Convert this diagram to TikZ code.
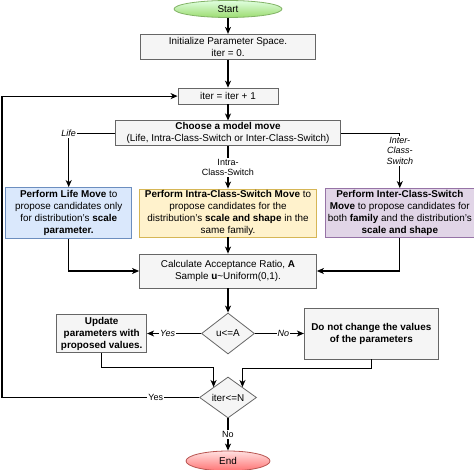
\documentclass[tikz,border=0pt]{standalone}
\usepackage{fontspec}
\setmainfont{Liberation Sans}
\usepackage{xcolor}
\usetikzlibrary{shapes,arrows,arrows.meta,positioning,calc}

\definecolor{grayfill}{HTML}{F5F5F5}
\definecolor{grayline}{HTML}{666666}
\definecolor{bluefill}{HTML}{DAE8FC}
\definecolor{blueline}{HTML}{6C8EBF}
\definecolor{yellowfill}{HTML}{FFF2CC}
\definecolor{yellowline}{HTML}{D6B656}
\definecolor{purplefill}{HTML}{E1D5E7}
\definecolor{purpleline}{HTML}{9673A6}
\definecolor{greenline}{HTML}{82B366}
\definecolor{redline}{HTML}{B85450}

\begin{document}
\begin{tikzpicture}[x=1pt, y=1pt,
    box/.style={rectangle, draw=grayline, fill=grayfill, line width=0.8pt, align=center,
                inner sep=0.5pt, font=\fontsize{9.9}{12}\selectfont},
    cond/.style={diamond, aspect=1.5, draw=grayline, fill=grayfill, line width=0.8pt,
                 inner sep=0pt, font=\fontsize{9.9}{12}\selectfont},
    term/.style={ellipse, line width=0.8pt, inner sep=0pt, font=\fontsize{9.9}{12}\selectfont},
    lbl/.style={fill=white, inner sep=1pt, align=center, font=\fontsize{9}{10.5}\selectfont},
    ilbl/.style={lbl, font=\fontsize{9}{10.5}\selectfont\itshape},
    arr/.style={->, >={Stealth[length=7pt, width=6pt, inset=2pt]}, line width=1.1pt}
]
\useasboundingbox (0,0) rectangle (474,-470);

\node[term, draw=greenline, top color=green!12!white, bottom color=green!45!lime!60!gray!70,
      minimum width=108pt, minimum height=17pt] (start) at (228,-9) {Start};
\node[box, below=16pt of start, minimum width=175pt, minimum height=25pt] (init)
      {Initialize Parameter Space.\\iter = 0.};
\node[box, below=28pt of init, minimum width=100pt, minimum height=16pt] (iter)
      {iter = iter + 1};
\node[box, below=16pt of iter, minimum width=225pt, minimum height=25pt] (choose)
      {\textbf{Choose a model move}\\(Life, Intra-Class-Switch or Inter-Class-Switch)};

\node[box, fill=yellowfill, draw=yellowline,
      minimum width=177pt, minimum height=48pt] (intra) at (228,-213)
      {\textbf{Perform Intra-Class-Switch Move} to\\propose candidates for the\\
       distribution's \textbf{scale and shape} in the\\same family.};
\node[box, left=7pt of intra, fill=bluefill, draw=blueline,
      minimum width=126pt, minimum height=51pt] (life)
      {\textbf{Perform Life Move} to\\propose candidates only\\
       for distribution's \textbf{scale}\\\textbf{parameter.}};
\node[box, right=8pt of intra, fill=purplefill, draw=purpleline,
      minimum width=149pt, minimum height=49pt] (inter)
      {\textbf{Perform Inter-Class-Switch}\\\textbf{Move} to propose candidates for\\
       both \textbf{family} and the distribution's\\\textbf{scale and shape}};

\node[box, minimum width=177pt, minimum height=34pt] (calc) at (228,-271)
      {Calculate Acceptance Ratio, \textbf{A}\\Sample \textbf{u}\textasciitilde Uniform(0,1).};
\node[cond, minimum width=53pt, minimum height=41pt] (ua) at (228,-333.5) {u<=A};
\node[box, left=54pt of ua, minimum width=90pt, minimum height=38pt] (update)
      {\textbf{Update}\\\textbf{parameters with}\\\textbf{proposed values.}};
\node[box, right=49pt of ua, minimum width=134pt, minimum height=51pt] (nochange)
      {\textbf{Do not change the values}\\\textbf{of the parameters}};
\node[cond, minimum width=57pt, minimum height=41pt] (check) at (228,-397.5) {iter<=N};
\node[term, draw=redline, top color=red!12!white, bottom color=red!55!white,
      minimum width=84pt, minimum height=20pt] (end) at (228,-461) {End};
\coordinate (loopx) at (2,0);

% main flow
\draw[arr] (start) -- (init);
\draw[arr] (init) -- (iter);
\draw[arr] (iter) -- (choose);
\draw[arr] (choose.west) -| node[ilbl] {Life} (life.north);
\draw[arr] (choose.south) -- node[lbl] {Intra-\\Class-Switch} (intra.north);
\draw[arr] (choose.east) -| node[ilbl, pos=0.66] {Inter-\\Class-\\Switch} (inter.north);
\draw[arr] (life.south) |- (calc.west);
\draw[arr] (intra) -- (calc);
\draw[arr] (inter.south) |- (calc.east);
\draw[arr] (calc) -- (ua);
\draw[arr] (ua.west) -- node[ilbl, pos=0.62] {Yes} (update.east);
\draw[arr] (ua.east) -- node[ilbl, pos=0.58] {No} (nochange.west);
\draw[arr] (update.south) -- ++(0,-15) -| ($(check.north)!0.5!(check.west)$);
\draw[arr] (nochange.south) -- ++(0,-9) -| ($(check.north)!0.5!(check.east)$);
\draw[arr] (check.west) -- node[lbl, pos=0.22] {Yes} (check.west -| loopx) |- (iter.west);
\draw[arr] (check.south) -- node[lbl] {No} (end.north);
\end{tikzpicture}
\end{document}
